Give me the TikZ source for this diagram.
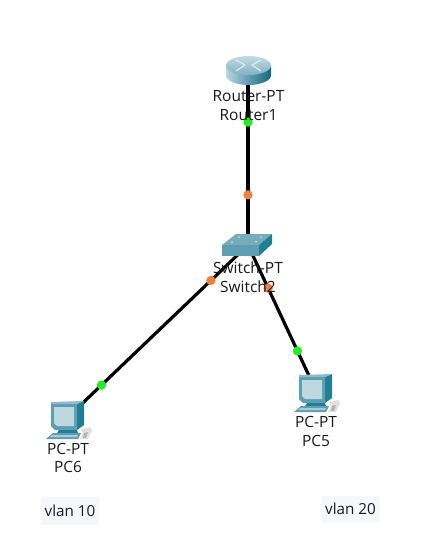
\documentclass[tikz,border=0pt]{standalone}
\usepackage{fontspec}
\setmainfont{Open Sans}
\definecolor{linkgreen}{HTML}{22EE22}
\definecolor{linkorange}{HTML}{F08040}
\definecolor{tealmid}{HTML}{5F9DB2}
\definecolor{tealdark}{HTML}{1F7F95}
\definecolor{teallight}{HTML}{A9CBD6}
\definecolor{pale}{HTML}{F5F7FB}
\tikzset{
  x=0.75pt,y=-0.75pt,
  anchorpt/.style={inner sep=0pt,minimum size=0pt},
  link/.style={line width=2.4pt,black},
  greendot/.style={circle,fill=linkgreen,inner sep=0pt,minimum size=7pt},
  orangedot/.style={circle,fill=linkorange,inner sep=0pt,minimum size=7pt},
  devlabel/.style={inner sep=0pt,align=center,font=\fontsize{11.6}{14}\selectfont,text=black!90},
  notebox/.style={fill=pale,inner sep=0pt,font=\fontsize{11.4}{14}\selectfont,text=black!90},
  pcicon/.pic={
    \fill[tealdark] (26,2) -- (33,-1) -- (33,23) -- (26,28) -- cycle;
    \fill[tealmid] (0,2) -- (26,2) -- (26,28) -- (4,28) -- (0,24) -- cycle;
    \fill[tealmid!70!white] (0,0) -- (33,-1) -- (26,2) -- (0,2) -- cycle;
    \fill[teallight!75!white] (3,5) -- (23,5) -- (23,24) -- (6,24) -- (3,21) -- cycle;
    \fill[tealdark] (8,28) -- (26,28) -- (27,31) -- (6,31) -- cycle;
    \fill[tealmid] (2,31) -- (30,31) -- (27,37) -- (-5,37) -- cycle;
    \fill[teallight] (1,33) -- (27,33) -- (26,35) -- (-1,35) -- cycle;
    \fill[black!12] (30,27) -- (39,25) -- (41,28) -- (37,37) -- (29,37) -- (32,31) -- cycle;
    \fill[black!30] (33,31) -- (37,30) -- (35,36) -- (32,36) -- cycle;
  }
}
\begin{document}
\begin{tikzpicture}
\useasboundingbox (0,0) rectangle (432,547);
\fill[white] (0,0) rectangle (432,547);
\node[anchorpt] (router) at (248,70) {};
\node[anchorpt] (switch) at (248,245) {};
\node[anchorpt] (pcsix) at (66,419) {};
\node[anchorpt] (pcfive) at (318,395) {};
\node[notebox,minimum width=43.5pt,minimum height=21pt] (vlanten) at (70,511) {vlan 10};
\node[notebox,minimum width=43.5pt,minimum height=19.5pt] (vlantwenty) at (350.5,509) {vlan 20};
\draw[link] (router) -- node[pos=.297,greendot] (d1) {} node[pos=.714,orangedot] (d2) {} (switch);
\draw[link] (switch) -- node[pos=.203,orangedot] (d3) {} node[pos=.806,greendot] (d4) {} (pcsix);
\draw[link] (switch) -- node[pos=.287,orangedot] (d5) {} node[pos=.707,greendot] (d6) {} (pcfive);
% router icon
\shade[left color=teallight!80!white,right color=tealdark!80!black,middle color=tealmid] (226,65.5) -- (226,75.5) .. controls (226,80.5) and (236,85) .. (248.5,85) .. controls (261,85) and (271,80.5) .. (271,75.5) -- (271,65.5) -- cycle;
\shade[top color=teallight!70!white,bottom color=tealmid!80!white] (248.5,65.5) ellipse[x radius=22.5,y radius=9.5];
\draw[white!80!tealmid,line width=.9pt] (236,60) -- (245,65) -- (236,71) (261,60) -- (252,65) -- (261,71);
% switch icon
\fill[tealmid!85!white] (222,245) -- (236,234) -- (272,234) -- (259,245) -- cycle;
\fill[tealmid] (222,245) -- (259,245) -- (259,256) -- (222,256) -- cycle;
\fill[tealdark] (259,245) -- (272,234) -- (272,244) -- (259,256) -- cycle;
\fill[white!70!tealmid] (239,237) circle[radius=1] (261,237) circle[radius=1] (232,242) circle[radius=1] (256,241.5) circle[radius=1];
% pc icons
\pic at (51,402) {pcicon};
\pic at (299,375) {pcicon};
% labels
\node[devlabel] (routerlabel) at (248.5,105.5) {Router-PT\\Router1};
\node[devlabel] (switchlabel) at (248,277.5) {Switch-PT\\Switch2};
\node[devlabel] (pcsixlabel) at (68,458) {PC-PT\\PC6};
\node[devlabel] (pcfivelabel) at (316,431.5) {PC-PT\\PC5};
\end{tikzpicture}
\end{document}
